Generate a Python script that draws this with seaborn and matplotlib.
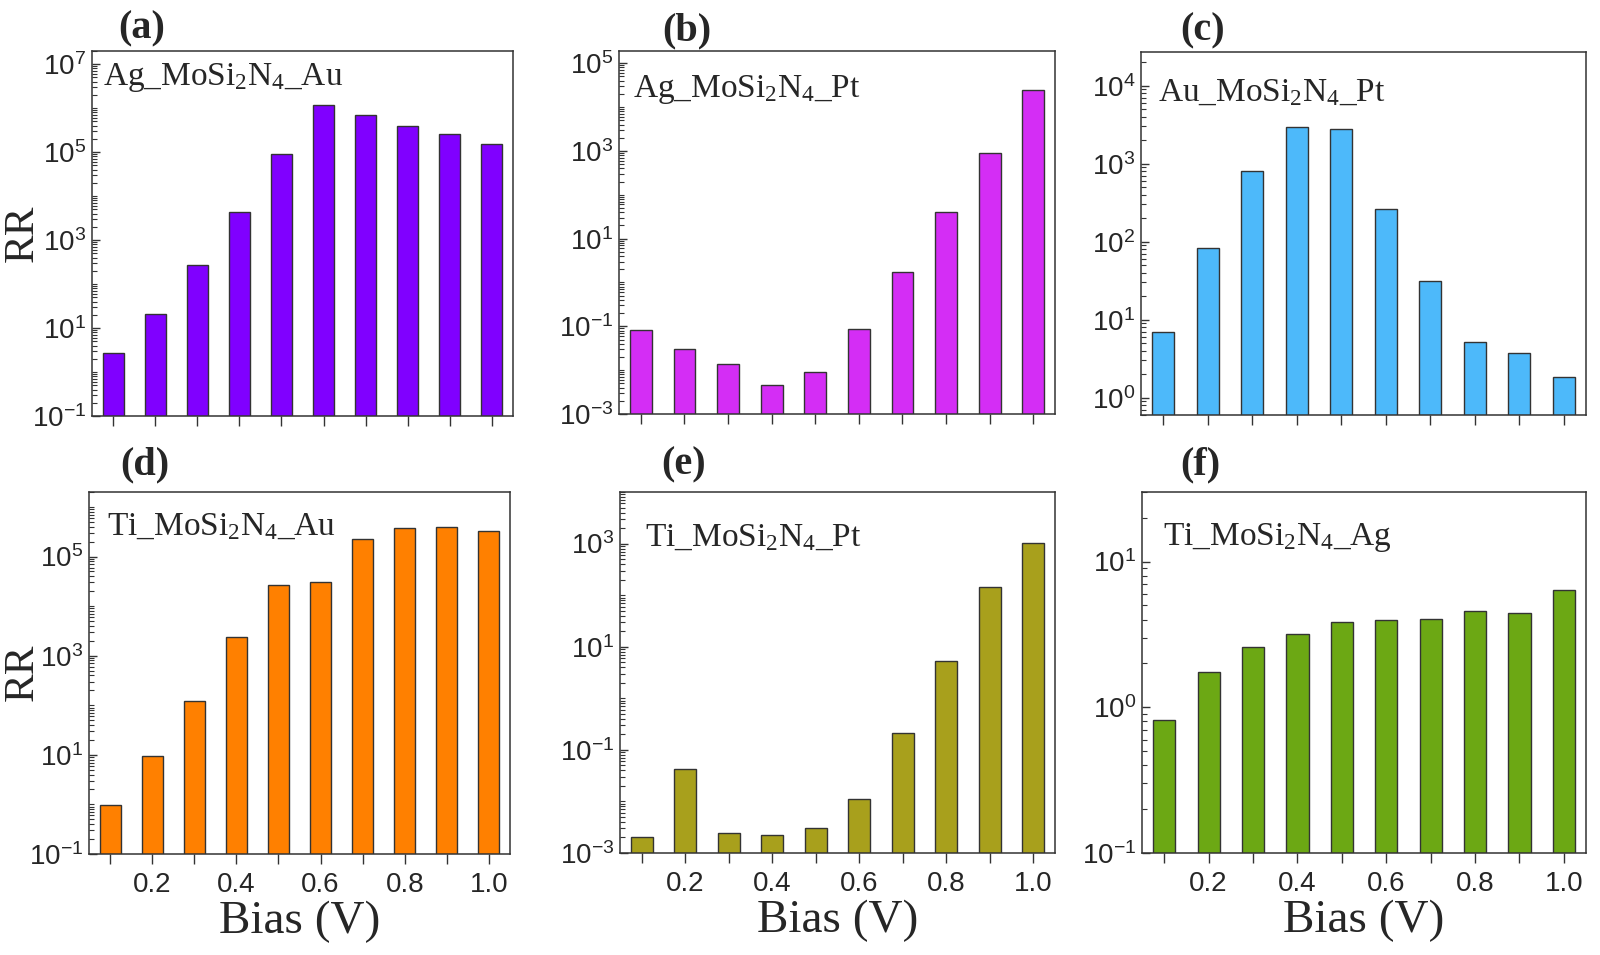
import numpy as np
import matplotlib
matplotlib.use("Agg")
import matplotlib.pyplot as plt
import matplotlib.ticker as ticker
import seaborn as sns

# Bias values (V)
bias = [0.1, 0.2, 0.3, 0.4, 0.5, 0.6, 0.7, 0.8, 0.9, 1.0]

# Rectification ratio
rr_ag_au = [2.7, 21, 270, 4400, 8.9e4, 1.2e6, 6.9e5, 4.0e5, 2.6e5, 1.55e5]
rr_ag_pt = [0.081, 0.030, 0.014, 0.0047, 0.0093, 0.089, 1.7, 40, 920, 2.5e4]
rr_au_pt = [7.0, 82, 800, 2960, 2750, 263, 31.5, 5.2, 3.7, 1.86]
rr_ti_au = [0.98, 9.6, 120, 2400, 2.7e4, 3.1e4, 2.3e5, 3.7e5, 4.0e5, 3.3e5]
rr_ti_pt = [0.00204, 0.042, 0.0024, 0.0022, 0.0030, 0.0112, 0.21, 5.2, 144, 1020]
rr_ti_ag = [0.82, 1.75, 2.59, 3.16, 3.86, 4.0, 4.05, 4.6, 4.4, 6.4]

labels = [r'Ag_MoSi$_2$N$_4$_Au', r'Ag_MoSi$_2$N$_4$_Pt', r'Au_MoSi$_2$N$_4$_Pt',
          r'Ti_MoSi$_2$N$_4$_Au', r'Ti_MoSi$_2$N$_4$_Pt', r'Ti_MoSi$_2$N$_4$_Ag']
letters = ['(a)', '(b)', '(c)', '(d)', '(e)', '(f)']
colors = ['#8000FF', '#D42DF5', '#4DB9FA', '#FF8000', '#A8A01C', '#6CA814']
series = [rr_ag_au, rr_ag_pt, rr_au_pt, rr_ti_au, rr_ti_pt, rr_ti_ag]

ylims = [(0.1, 2e7), (1e-3, 1.9e5), (0.6, 2.7e4), (0.1, 2e6), (1e-3, 1e4), (0.1, 30)]
yticks_major = [[1e-1, 1e1, 1e3, 1e5, 1e7], [1e-3, 1e-1, 1e1, 1e3, 1e5],
                [1e0, 1e1, 1e2, 1e3, 1e4], [1e-1, 1e1, 1e3, 1e5],
                [1e-3, 1e-1, 1e1, 1e3], [1e-1, 1e0, 1e1]]

sns.set_theme(style="ticks")
plt.rcParams['font.family'] = ['Liberation Sans', 'DejaVu Sans']
plt.rcParams['mathtext.default'] = 'regular'

fig = plt.figure(figsize=(16, 9.55), dpi=100)
W, H = 1600, 955

# axes boxes in pixels: left, top, right, bottom
boxes = [(92, 51, 513, 416), (619, 51, 1055, 414), (1141, 52, 1586, 415),
         (89, 492, 510, 854), (620, 492, 1055, 853), (1142, 492, 1586, 853)]
label_pos = [(103, 78), (633, 90), (1158, 93), (107, 527), (645, 538), (1163, 538)]
letter_pos = [(142, 29), (687, 31), (1203, 31), (145, 465), (684, 465), (1200, 465)]

for i in range(6):
    l, t, r, b = boxes[i]
    ax = fig.add_axes([l / W, 1 - b / H, (r - l) / W, (b - t) / H])
    ax.set_yscale('log')
    sns.barplot(x=bias, y=series[i], native_scale=True, width=0.5, color=colors[i],
                saturation=1, edgecolor='#333333', linewidth=1, errorbar=None, ax=ax)
    ax.set_xlim(0.05, 1.05)
    ax.set_ylim(*ylims[i])

    ax.yaxis.set_major_locator(ticker.FixedLocator(yticks_major[i]))
    ax.yaxis.set_minor_locator(ticker.LogLocator(base=10, subs=np.arange(1, 10), numticks=50))
    ax.yaxis.set_major_formatter(ticker.FuncFormatter(
        lambda v, p: r'$\mathregular{10^{%d}}$' % int(round(np.log10(v)))))
    ax.yaxis.set_minor_formatter(ticker.NullFormatter())

    ax.set_xticks(bias)
    if i >= 3:
        ax.set_xticklabels(['' if k % 2 == 0 else f'{v:.1f}' for k, v in enumerate(bias)])
        ax.set_xlabel('Bias (V)', fontsize=34, family='Liberation Serif', labelpad=2)
    else:
        ax.set_xticklabels([])
        ax.set_xlabel('')
    ax.set_ylabel('')

    ax.tick_params(axis='x', direction='out', length=7, width=1, labelsize=20, pad=6, color='#333333')
    ax.tick_params(axis='y', which='major', direction='in', length=6, width=1, labelsize=20, pad=4, color='#333333')
    ax.tick_params(axis='y', which='minor', direction='in', length=3.5, width=0.8, color='#333333')
    for s in ax.spines.values():
        s.set_visible(True)
        s.set_color('#333333')
        s.set_linewidth(1.1)

    fig.text(label_pos[i][0] / W, 1 - label_pos[i][1] / H, labels[i], fontsize=24,
             family='Liberation Serif', ha='left', va='center')
    fig.text(letter_pos[i][0] / W, 1 - letter_pos[i][1] / H, letters[i], fontsize=29,
             family='Liberation Serif', fontweight='bold', ha='center', va='center')

fig.text(22 / W, 1 - 233 / H, 'RR', fontsize=31, family='Liberation Serif',
         rotation=90, ha='center', va='center')
fig.text(22 / W, 1 - 672 / H, 'RR', fontsize=31, family='Liberation Serif',
         rotation=90, ha='center', va='center')

fig.savefig('out.png', dpi=100)
